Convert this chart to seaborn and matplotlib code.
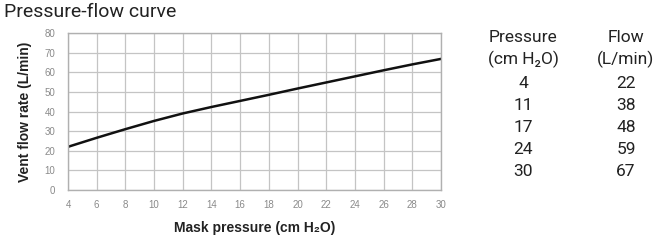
import matplotlib
matplotlib.use("Agg")
import matplotlib.pyplot as plt
import seaborn as sns
import pandas as pd

# curve data
pressure = [4, 6, 8, 10, 12, 14, 16, 18, 20, 22, 24, 26, 28, 30]
flow = [22, 26.6, 31, 35.2, 39.0, 42.3, 45.4, 48.5, 51.7, 54.8, 57.9, 61.0, 64.0, 66.8]

# table data
tab_pressure = ["4", "11", "17", "24", "30"]
tab_flow = ["22", "38", "48", "59", "67"]

x_ticks = list(range(4, 31, 2))
y_ticks = list(range(0, 81, 10))

sns.set_theme(style="white")
plt.rcParams['font.family'] = ['Liberation Sans', 'DejaVu Sans']

fig = plt.figure(figsize=(6.56, 2.41), dpi=100)
ax = fig.add_axes([68/656, 1-190/241, (441-68)/656, (190-33)/241])

df = pd.DataFrame({"Pressure": pressure, "Flow": flow})
sns.lineplot(data=df, x="Pressure", y="Flow", ax=ax, color="#111111", linewidth=1.8)

ax.set_xlim(4, 30)
ax.set_ylim(0, 80)
ax.set_xticks(x_ticks)
ax.set_yticks(y_ticks)
ax.grid(True, color="#c4c4c4", linewidth=0.9)
for s in ax.spines.values():
    s.set_color("#b0b0b0")
    s.set_linewidth(1.0)
ax.tick_params(axis='both', length=0, labelsize=7, colors="#8a8a8a")
ax.tick_params(axis='y', pad=9)
ax.tick_params(axis='x', pad=7)
ax.set_xlabel("Mask pressure (cm H\u2082O)", fontsize=10, fontweight="bold", color="#222222", labelpad=8)
ax.set_ylabel("Vent flow rate (L/min)", fontsize=10, fontweight="bold", color="#222222", labelpad=9)

cond = ['Roboto', 'DejaVu Sans']
fig.text(4/656, 1-12/241, "Pressure-flow curve", fontsize=14, family=cond, color="#222222",
         ha="left", va="center")

col1, col2 = 523/656, 626/656
fs = 12.5
fig.text(col1, 1-37/241, "Pressure", fontsize=fs, family=cond, color="#222222", ha="center", va="center")
fig.text(col1, 1-59/241, "(cm H\u2082O)", fontsize=fs, family=cond, color="#222222", ha="center", va="center")
fig.text(col2, 1-37/241, "Flow", fontsize=fs, family=cond, color="#222222", ha="center", va="center")
fig.text(col2, 1-59/241, "(L/min)", fontsize=fs, family=cond, color="#222222", ha="center", va="center")
for i, (p, f) in enumerate(zip(tab_pressure, tab_flow)):
    y = 1 - (84 + 22*i)/241
    fig.text(col1, y, p, fontsize=fs, family=cond, color="#222222", ha="center", va="center")
    fig.text(col2, y, f, fontsize=fs, family=cond, color="#222222", ha="center", va="center")

fig.savefig("out.png", dpi=100)
